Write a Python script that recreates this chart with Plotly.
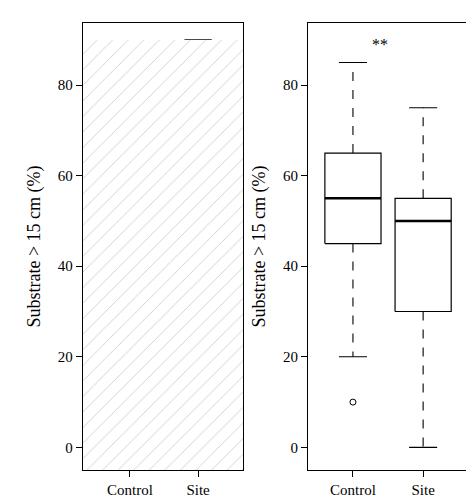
import plotly.graph_objects as go

groups = ["Control", "Site"]

# left panel (hatched)
left_q1 = [45, 45]
left_med = [60, 55]
left_q3 = [67.5, 65]
left_lo = [25, 20]
left_hi = [85, 90]

# right panel
right_q1 = [45, 30]
right_med = [55, 50]
right_q3 = [65, 55]
right_lo = [20, 0]
right_hi = [85, 75]
right_outliers = [("Control", 10)]

yticks = [0, 20, 40, 60, 80]
FONT = "Liberation Serif"
HW = 0.4   # half box width
CW = 0.2   # half cap width

fig = go.Figure()

# hatch background on left panel
fig.add_trace(go.Bar(x=[0.5], y=[100], base=[-10], width=[1], xaxis="x3", yaxis="y",
                     marker=dict(color="white", line=dict(width=0),
                                 pattern=dict(shape="/", fgcolor="#9a9a9a", size=11, solidity=0.08)),
                     hoverinfo="skip", showlegend=False))


def panel(xa, ya, q1, med, q3, lo, hi, box_dash, wh_dash, fill):
    for i, g in enumerate(groups):
        # box
        fig.add_trace(go.Scatter(x=[i - HW, i + HW, i + HW, i - HW, i - HW],
                                 y=[q1[i], q1[i], q3[i], q3[i], q1[i]],
                                 mode="lines", fill="toself" if fill else None, fillcolor="white",
                                 line=dict(color="black", width=1.2, dash=box_dash),
                                 xaxis=xa, yaxis=ya, showlegend=False, hoverinfo="skip"))
        # whiskers
        fig.add_trace(go.Scatter(x=[i, i, None, i, i], y=[q3[i], hi[i], None, q1[i], lo[i]],
                                 mode="lines", line=dict(color="black", width=1.1, dash=wh_dash),
                                 xaxis=xa, yaxis=ya, showlegend=False, hoverinfo="skip"))
        # caps
        fig.add_trace(go.Scatter(x=[i - CW, i + CW, None, i - CW, i + CW],
                                 y=[hi[i], hi[i], None, lo[i], lo[i]],
                                 mode="lines", line=dict(color="black", width=1.1),
                                 xaxis=xa, yaxis=ya, showlegend=False, hoverinfo="skip"))
        # median
        fig.add_trace(go.Scatter(x=[i - HW, i + HW], y=[med[i], med[i]],
                                 mode="lines", line=dict(color="black", width=2.6),
                                 xaxis=xa, yaxis=ya, showlegend=False, hoverinfo="skip"))


panel("x", "y", left_q1, left_med, left_q3, left_lo, left_hi, "dash", "dashdot", False)
panel("x2", "y2", right_q1, right_med, right_q3, right_lo, right_hi, "solid", "dash", True)

fig.add_trace(go.Scatter(x=[groups.index(g) for g, _ in right_outliers], y=[v for _, v in right_outliers],
                         mode="markers", marker=dict(symbol="circle-open", size=6, color="black"),
                         xaxis="x2", yaxis="y2", showlegend=False))

fig.add_annotation(x=0.38, y=89, xref="x2", yref="y2", text="**", showarrow=False,
                   font=dict(size=16, family=FONT, color="black"))

ax = dict(showgrid=False, zeroline=False, showline=True, mirror=True, linecolor="black",
          linewidth=1.2, ticks="outside", tickcolor="black", ticklen=6)
yax = dict(ax, range=[-5, 93.7], tickvals=yticks, title=dict(text="Substrate > 15 cm (%)", standoff=12))
fig.update_layout(
    width=474, height=503, margin=dict(l=0, r=0, t=0, b=0),
    plot_bgcolor="white", paper_bgcolor="white",
    font=dict(family=FONT, size=15, color="black"),
    xaxis=dict(ax, domain=[0.158, 0.496], range=[-0.69, 1.66], tickmode="array",
               tickvals=[0, 1], ticktext=groups, anchor="y"),
    xaxis2=dict(ax, domain=[0.633, 0.975], range=[-0.64, 1.67], tickmode="array",
                tickvals=[0, 1], ticktext=groups, anchor="y2"),
    xaxis3=dict(overlaying="x", range=[0, 1], visible=False, anchor="y"),
    yaxis=dict(yax, domain=[0.0815, 0.97], anchor="x"),
    yaxis2=dict(yax, domain=[0.0815, 0.97], anchor="x2"),
    bargap=0,
)

fig.write_html("out.html")
